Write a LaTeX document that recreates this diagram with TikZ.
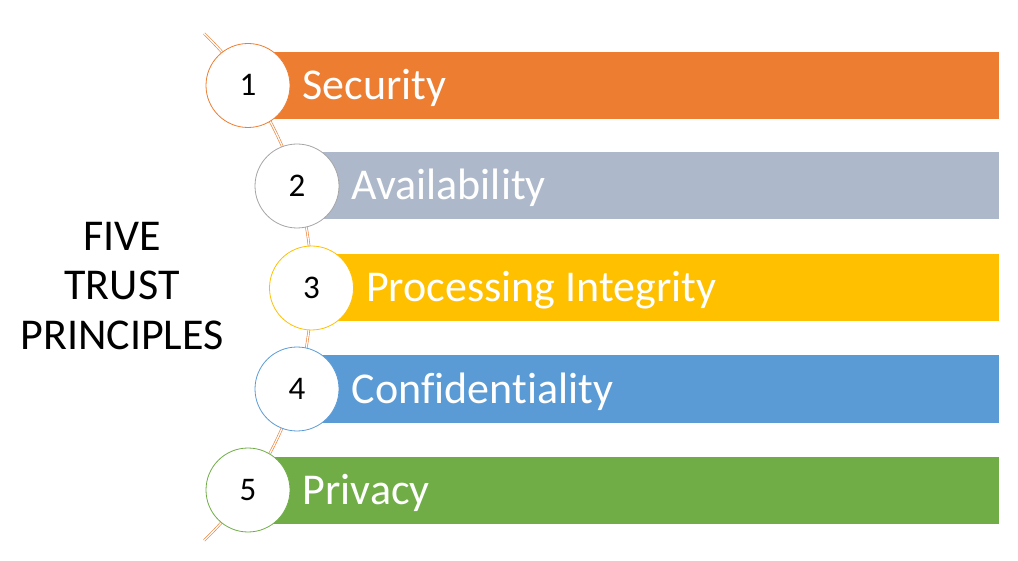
\documentclass[tikz,border=0pt]{standalone}
\usepackage{fontspec}
\setmainfont{Carlito}[Ligatures={NoCommon}]
\definecolor{secorange}{HTML}{ED7D31}
\definecolor{avlgray}{HTML}{ADB9CA}
\definecolor{avlring}{HTML}{A5A5A5}
\definecolor{proyellow}{HTML}{FFC000}
\definecolor{conblue}{HTML}{5B9BD5}
\definecolor{prvgreen}{HTML}{70AD47}
\tikzset{
  numcirc/.style={circle, fill=white, line width=0.8pt, minimum size=84pt, inner sep=0pt,
    font=\fontsize{33}{36}\selectfont, text height=21pt, text depth=0pt},
  bartext/.style={anchor=west, inner sep=0pt, text=white,
    font=\fontsize{44}{50}\selectfont, text height=28pt, text depth=0pt},
  spine/.style={draw=secorange, line width=0.6pt, double=white, double distance=1.3pt}
}
\begin{document}
\begin{tikzpicture}[x=1pt, y=1pt]
  \useasboundingbox (0,0) rectangle (1018,-561);

  % Curved spine behind the circles
  \coordinate (hub) at (-41.5,-287);
  \draw[spine] ([shift={(hub)}]45.9:353) arc (45.9:-45.9:353);

  % Bars, circles and labels: (number, x, y, bar colour, ring colour, label)
  \foreach \n/\cx/\cy/\barcol/\ringcol/\txt in {
      1/248/85.5/secorange/secorange/Security,
      2/297/186/avlgray/avlring/Availability,
      3/311.5/288/proyellow/proyellow/Processing Integrity,
      4/297/389/conblue/conblue/Confidentiality,
      5/248/490/prvgreen/prvgreen/Privacy} {
    \fill[\barcol] (\cx,-\cy+33.5) rectangle (999,-\cy-33.5);
    \node[numcirc, draw=\ringcol] (c\n) at (\cx,-\cy) {\n};
    \node[bartext] (t\n) at ([xshift=12pt]c\n.east) {\txt};
  }

  % Title
  \node[align=center, inner sep=0pt, font=\fontsize{44}{49.5}\selectfont] (title) at (122,-286)
    {FIVE\\TRUST\\PRINCIPLES};
\end{tikzpicture}
\end{document}
